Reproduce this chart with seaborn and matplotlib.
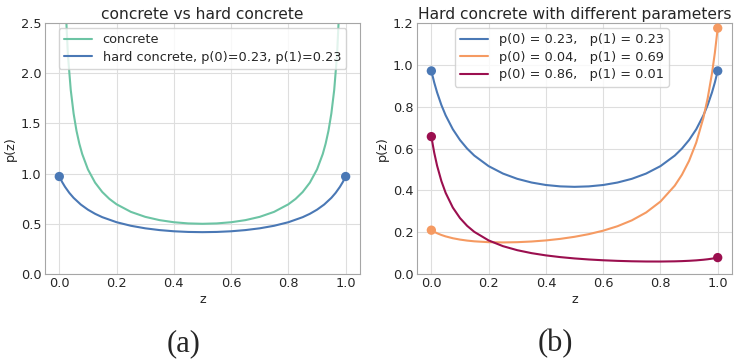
import matplotlib
matplotlib.use("Agg")
import matplotlib.pyplot as plt
import pandas as pd
import seaborn as sns

# ---- data ----
z_concrete = [0.01, 0.02, 0.03, 0.04, 0.05, 0.06, 0.07, 0.08, 0.1, 0.125, 0.15, 0.175, 0.2,
              0.25, 0.3, 0.35, 0.4, 0.45, 0.5, 0.55, 0.6, 0.65, 0.7, 0.75, 0.8, 0.825,
              0.85, 0.875, 0.9, 0.92, 0.93, 0.94, 0.95, 0.96, 0.97, 0.98, 0.99]
p_concrete = [4.191, 2.790, 2.185, 1.833, 1.598, 1.427, 1.2975, 1.1948, 1.0417, 0.9100, 0.8169,
              0.7477, 0.6944, 0.6188, 0.5693, 0.5365, 0.5155, 0.5038, 0.5, 0.5038, 0.5155,
              0.5365, 0.5693, 0.6188, 0.6944, 0.7477, 0.8169, 0.9100, 1.0417, 1.1948,
              1.2975, 1.427, 1.598, 1.833, 2.185, 2.790, 4.191]

z_hard = [0.0, 0.01, 0.02, 0.035, 0.05, 0.075, 0.1, 0.125, 0.15, 0.2, 0.25, 0.3, 0.35, 0.4,
          0.45, 0.5, 0.55, 0.6, 0.65, 0.7, 0.75, 0.8, 0.85, 0.875, 0.9, 0.925, 0.95, 0.965,
          0.98, 0.99, 1.0]
p_hard_a = [0.9709, 0.9156, 0.8681, 0.8080, 0.7583, 0.6920, 0.6406, 0.5995, 0.5661, 0.5157,
            0.4802, 0.4550, 0.4373, 0.4255, 0.4189, 0.4167, 0.4189, 0.4255, 0.4373, 0.4550,
            0.4802, 0.5157, 0.5661, 0.5995, 0.6406, 0.6920, 0.7583, 0.8080, 0.8681, 0.9156,
            0.9709]
p_hard_b = [0.2095, 0.2016, 0.1949, 0.1865, 0.1797, 0.1709, 0.1645, 0.1597, 0.1562, 0.1521,
            0.1509, 0.1521, 0.1553, 0.1605, 0.1679, 0.1778, 0.1906, 0.2071, 0.2284, 0.2564,
            0.2941, 0.3463, 0.4223, 0.4745, 0.5410, 0.6282, 0.7469, 0.8406, 0.9592, 1.0571,
            1.1755]
p_hard_c = [0.6568, 0.5801, 0.5180, 0.4444, 0.3876, 0.3175, 0.2674, 0.2301, 0.2014, 0.1605,
            0.1331, 0.1138, 0.09964, 0.08894, 0.08072, 0.07434, 0.06938, 0.06557, 0.06274,
            0.06079, 0.05971, 0.05956, 0.06053, 0.06156, 0.06306, 0.06518, 0.06813, 0.07045,
            0.07334, 0.07566, 0.07839]

left_title = "concrete vs hard concrete"
right_title = "Hard concrete with different parameters"
left_labels = ["concrete", "hard concrete, p(0)=0.23, p(1)=0.23"]
right_labels = ["p(0) = 0.23,   p(1) = 0.23",
                "p(0) = 0.04,   p(1) = 0.69",
                "p(0) = 0.86,   p(1) = 0.01"]
x_ticks = [0.0, 0.2, 0.4, 0.6, 0.8, 1.0]
left_yticks = [0.0, 0.5, 1.0, 1.5, 2.0, 2.5]
right_yticks = [0.0, 0.2, 0.4, 0.6, 0.8, 1.0, 1.2]

# ---- style ----
sns.set_style("whitegrid", {"axes.edgecolor": "0.65", "grid.color": "0.87"})
plt.rcParams["font.family"] = ["DejaVu Sans"]
plt.rcParams["xtick.labelsize"] = 9.3
plt.rcParams["ytick.labelsize"] = 9.3

GREEN = "#6cc4a4"
BLUE = "#4a78b5"
ORANGE = "#f59a62"
RED = "#9b0f4f"

fig = plt.figure(figsize=(7.41, 3.59), dpi=100)
ax1 = fig.add_axes([0.0607, 0.2368, 0.4251, 0.6991])
ax2 = fig.add_axes([0.5628, 0.2368, 0.4251, 0.6991])

df_c = pd.DataFrame({"z": z_concrete, "p": p_concrete})
df_h = pd.DataFrame({"z": z_hard, "a": p_hard_a, "b": p_hard_b, "c": p_hard_c})
ends = df_h.iloc[[0, -1]]

# left panel
sns.lineplot(data=df_c, x="z", y="p", ax=ax1, color=GREEN, lw=1.5, label=left_labels[0])
sns.lineplot(data=df_h, x="z", y="a", ax=ax1, color=BLUE, lw=1.5, label=left_labels[1])
sns.scatterplot(data=ends, x="z", y="a", ax=ax1, color=BLUE, s=45, edgecolor="none",
                zorder=4, legend=False)
ax1.set_xlim(-0.05, 1.05)
ax1.set_ylim(0, 2.5)
ax1.set_xticks(x_ticks)
ax1.set_yticks(left_yticks)
ax1.set_title(left_title, fontsize=11.2, pad=3)
ax1.set_xlabel("z", fontsize=9.3, labelpad=2)
ax1.set_ylabel("p(z)", fontsize=9.3, labelpad=3)
ax1.legend(loc="upper center", fontsize=9.3, frameon=True, handlelength=2.2,
           borderaxespad=0.4, labelspacing=0.35)

# right panel
for col, color, lab in zip(["a", "b", "c"], [BLUE, ORANGE, RED], right_labels):
    sns.lineplot(data=df_h, x="z", y=col, ax=ax2, color=color, lw=1.5, label=lab)
    sns.scatterplot(data=ends, x="z", y=col, ax=ax2, color=color, s=45, edgecolor="none",
                    zorder=4, legend=False)
ax2.set_xlim(-0.05, 1.05)
ax2.set_ylim(0, 1.2)
ax2.set_xticks(x_ticks)
ax2.set_yticks(right_yticks)
ax2.set_title(right_title, fontsize=11.2, pad=3)
ax2.set_xlabel("z", fontsize=9.3, labelpad=2)
ax2.set_ylabel("p(z)", fontsize=9.3, labelpad=3)
ax2.legend(loc="upper center", bbox_to_anchor=(0.46, 1.0), fontsize=9.3, frameon=True,
           handlelength=2.2, borderaxespad=0.4, labelspacing=0.35)

for ax in (ax1, ax2):
    for sp in ax.spines.values():
        sp.set_visible(True)
        sp.set_color("0.65")
    ax.tick_params(length=0, pad=2.5)

fig.text(0.248, 0.042, "(a)", family=["Liberation Serif"], fontsize=22, ha="center", va="center")
fig.text(0.749, 0.042, "(b)", family=["Liberation Serif"], fontsize=22, ha="center", va="center")

fig.savefig("out.png", dpi=100)
